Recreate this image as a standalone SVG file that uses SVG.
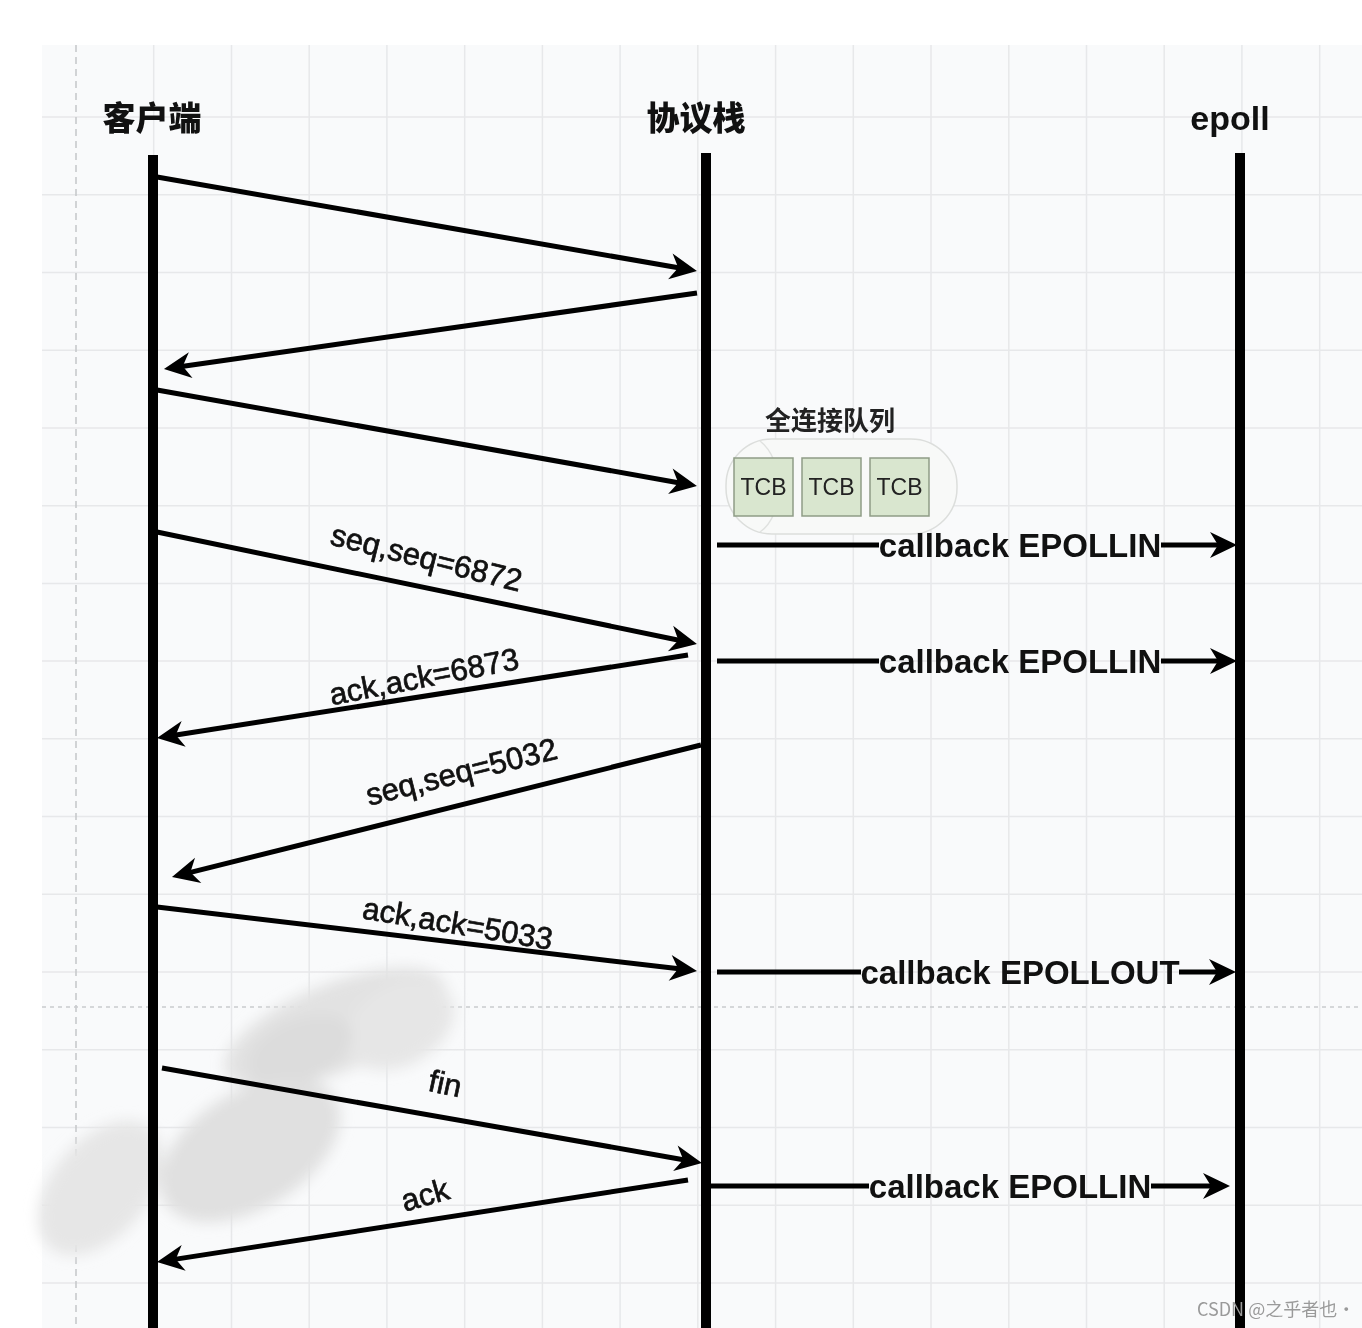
<svg xmlns="http://www.w3.org/2000/svg" width="1362" height="1328" viewBox="0 0 1362 1328">
<style>
.grid{stroke:#e7e8ea;stroke-width:1.5;fill:none}
.life{stroke:#000;stroke-width:10;fill:none}
.msg{stroke:#000;stroke-width:5;fill:none;marker-end:url(#ah)}
.seg{stroke:#000;stroke-width:5;fill:none}
.title{font-family:"Noto Sans CJK SC","Liberation Sans",sans-serif;font-weight:900;font-size:33px;fill:#111;text-anchor:middle}
.lbl{font-family:"Liberation Sans",Arial,sans-serif;font-size:31px;fill:#111;stroke:#111;stroke-width:0.7;text-anchor:middle}
.cb{font-family:"Liberation Sans",Arial,sans-serif;font-weight:bold;font-size:33px;fill:#111;text-anchor:middle}
.tcb rect{fill:#d9e6cf;stroke:#8e9c86;stroke-width:1.5}
.tcb text{font-family:"Liberation Sans",Arial,sans-serif;font-size:23px;fill:#222;text-anchor:middle}
</style>
<defs>
<marker id="ah" markerUnits="userSpaceOnUse" markerWidth="44" markerHeight="44" viewBox="-12 -22 44 44" refX="0" refY="0" orient="auto" overflow="visible">
<path d="M16,0 L-11,-13 L-3,0 L-11,13 Z" fill="#000"/>
</marker>
<filter id="blur" x="-50%" y="-50%" width="200%" height="200%"><feGaussianBlur stdDeviation="7"/></filter>
</defs>
<rect x="0" y="0" width="1362" height="1328" fill="#ffffff"/>
<g id="grid">
<rect x="42" y="45" width="1320" height="1283" fill="#f9fafb"/>
<path class="grid" d="M153.7,45V1328M231.5,45V1328M309.2,45V1328M386.9,45V1328M464.7,45V1328M542.4,45V1328M620.1,45V1328M697.8,45V1328M775.6,45V1328M853.3,45V1328M931,45V1328M1008.8,45V1328M1086.5,45V1328M1164.2,45V1328M1241.9,45V1328M1319.7,45V1328M42,117H1362M42,194.7H1362M42,272.5H1362M42,350.2H1362M42,427.9H1362M42,505.7H1362M42,583.4H1362M42,661.1H1362M42,738.8H1362M42,816.6H1362M42,894.3H1362M42,972H1362M42,1049.8H1362M42,1127.5H1362M42,1205.2H1362M42,1283H1362"/>
<path d="M76,45V1328" stroke="#c4c6c9" stroke-width="1.5" stroke-dasharray="7 5" fill="none"/>
<path d="M42,1007H1362" stroke="#c9cbce" stroke-width="1.5" stroke-dasharray="4 4" fill="none"/>
</g>
<g id="smudge" filter="url(#blur)">
<ellipse cx="335" cy="1028" rx="118" ry="44" transform="rotate(-22 335 1028)" fill="#e2e2e2"/>
<ellipse cx="400" cy="1025" rx="58" ry="40" transform="rotate(-30 400 1025)" fill="#e6e6e6"/>
<ellipse cx="300" cy="1050" rx="55" ry="30" transform="rotate(-22 300 1050)" fill="#dcdcdc"/>
<ellipse cx="250" cy="1150" rx="100" ry="58" transform="rotate(-32 250 1150)" fill="#e0e0e0"/>
<ellipse cx="100" cy="1188" rx="78" ry="48" transform="rotate(-50 100 1188)" fill="#e6e6e6"/>
</g>
<g id="client">
<text class="title" x="152" y="130">客户端</text>
<line class="life" x1="153" y1="155" x2="153" y2="1328"/>
</g>
<g id="stack">
<text class="title" x="696" y="130">协议栈</text>
<line class="life" x1="706" y1="153" x2="706" y2="1328"/>
</g>
<g id="epoll">
<text class="title" x="1230" y="130" style="font-family:'Liberation Sans',Arial,sans-serif;font-weight:bold;font-size:34px">epoll</text>
<line class="life" x1="1240" y1="153" x2="1240" y2="1328"/>
</g>
<g id="queue">
<text x="830" y="430" style="font-family:'Noto Sans CJK SC',sans-serif;font-weight:bold;font-size:26px;fill:#222;text-anchor:middle">全连接队列</text>
<rect x="726" y="439" width="231" height="95" rx="46" fill="#f8f9f8" stroke="#dcdedc" stroke-width="1.5"/>
<path d="M760,441 C785,460 785,515 760,532" fill="none" stroke="#e0e2e0" stroke-width="1.5"/>
</g>
<g id="tcb1" class="tcb"><rect x="734" y="458" width="59" height="58"/><text x="763.5" y="495">TCB</text></g>
<g id="tcb2" class="tcb"><rect x="802" y="458" width="59" height="58"/><text x="831.5" y="495">TCB</text></g>
<g id="tcb3" class="tcb"><rect x="870" y="458" width="59" height="58"/><text x="899.5" y="495">TCB</text></g>
<g id="connectors">
<line class="msg" x1="157" y1="177" x2="681.2" y2="268.3"/>
<line class="msg" x1="697" y1="293" x2="179.8" y2="366.7"/>
<line class="msg" x1="157" y1="390" x2="681.2" y2="483.2"/>
<line class="msg" x1="157" y1="532" x2="681.3" y2="640.8"/>
<line class="msg" x1="688" y1="655" x2="172.8" y2="735.5"/>
<line class="msg" x1="701" y1="745" x2="187.5" y2="873.1"/>
<line class="msg" x1="157" y1="907" x2="681.1" y2="969.1"/>
<line class="msg" x1="162" y1="1068" x2="686.2" y2="1160.2"/>
<line class="msg" x1="688" y1="1180" x2="172.8" y2="1259.6"/>
<text class="lbl" transform="translate(424,568) rotate(14)">seq,seq=6872</text>
<text class="lbl" transform="translate(426,687) rotate(-11)">ack,ack=6873</text>
<text class="lbl" transform="translate(464,782) rotate(-14)">seq,seq=5032</text>
<text class="lbl" transform="translate(456,934) rotate(9.5)">ack,ack=5033</text>
<text class="lbl" transform="translate(443,1094) rotate(12)">fin</text>
<text class="lbl" transform="translate(428,1205) rotate(-16)">ack</text>
<line class="seg" x1="717" y1="545" x2="879" y2="545"/>
<line class="msg" x1="1161" y1="545" x2="1221" y2="545"/>
<text class="cb" x="1020" y="557">callback EPOLLIN</text>
<line class="seg" x1="717" y1="661" x2="879" y2="661"/>
<line class="msg" x1="1161" y1="661" x2="1221" y2="661"/>
<text class="cb" x="1020" y="673">callback EPOLLIN</text>
<line class="seg" x1="717" y1="972" x2="861" y2="972"/>
<line class="msg" x1="1179" y1="972" x2="1220" y2="972"/>
<text class="cb" x="1020" y="984">callback EPOLLOUT</text>
<line class="seg" x1="710" y1="1186" x2="869" y2="1186"/>
<line class="msg" x1="1151" y1="1186" x2="1214" y2="1186"/>
<text class="cb" x="1010" y="1198">callback EPOLLIN</text>
</g>
<text x="1197" y="1316" style="font-family:'Noto Sans CJK SC','Liberation Sans',sans-serif;font-size:18px;fill:#9a9a9a">CSDN @之乎者也·</text>
</svg>
